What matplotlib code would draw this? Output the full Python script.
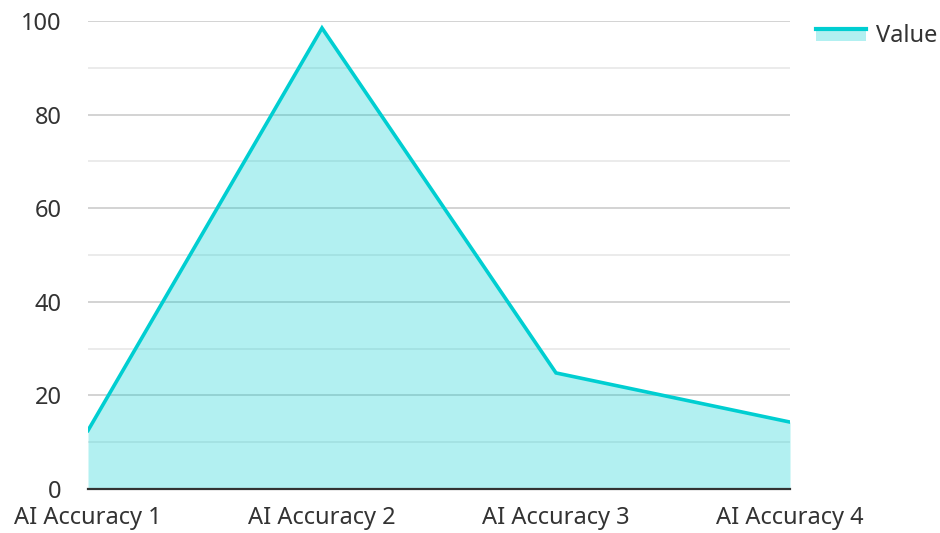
import matplotlib
matplotlib.use("Agg")
import matplotlib.pyplot as plt
from matplotlib.legend_handler import HandlerBase
from matplotlib.patches import Rectangle
from matplotlib.lines import Line2D

categories = ["AI Accuracy 1", "AI Accuracy 2", "AI Accuracy 3", "AI Accuracy 4"]
values = [12.5, 98.5, 24.8, 14.3]
y_ticks = [0, 20, 40, 60, 80, 100]
series_name = "Value"

color = "#00CED1"
text_color = "#333333"
plt.rcParams["font.family"] = ["Noto Sans", "DejaVu Sans"]
fs = 17

fig = plt.figure(figsize=(9.4, 5.33), dpi=100)
ax = fig.add_axes([88 / 940, 1 - 489 / 533, (790 - 88) / 940, (489 - 21) / 533])

x = list(range(len(categories)))
ax.fill_between(x, values, 0, color=color, alpha=0.3, linewidth=0, zorder=2)
ax.plot(x, values, color=color, linewidth=2.6, zorder=3, solid_joinstyle="miter")

ax.set_xlim(0, len(categories) - 1)
ax.set_ylim(0, 100)
ax.set_yticks(y_ticks)
ax.set_yticks([10, 30, 50, 70, 90], minor=True)
ax.set_xticks(x)
ax.set_xticklabels(categories)
ax.set_axisbelow(True)
ax.grid(axis="y", which="major", color="#c8c8c8", linewidth=1.1, zorder=0)
ax.grid(axis="y", which="minor", color="#e6e6e6", linewidth=1.1, zorder=0)
for s in ["top", "right", "left"]:
    ax.spines[s].set_visible(False)
ax.spines["bottom"].set_color(text_color)
ax.spines["bottom"].set_linewidth(1.6)
ax.spines["bottom"].set_zorder(4)
ax.tick_params(axis="both", which="both", length=0, labelsize=fs, colors=text_color)
ax.tick_params(axis="y", pad=19)
ax.tick_params(axis="x", pad=12)


class AreaHandler(HandlerBase):
    def create_artists(self, legend, orig_handle, xdescent, ydescent, width, height, fontsize, trans):
        r = Rectangle((-xdescent, -ydescent), width, height * 0.8, facecolor=color, alpha=0.3,
                      edgecolor="none", transform=trans)
        l = Line2D([-xdescent, -xdescent + width], [-ydescent + height * 0.8] * 2, color=color,
                   linewidth=3, transform=trans)
        return [r, l]


handle = Rectangle((0, 0), 1, 1)
leg = fig.legend([handle], [series_name], handler_map={Rectangle: AreaHandler()},
                 loc="upper left", bbox_to_anchor=(795 / 940, 1 - 3 / 533), frameon=False,
                 fontsize=fs, handlelength=2.1, handleheight=0.6, handletextpad=0.45,
                 labelcolor=text_color)

fig.savefig("out.png", dpi=100)
